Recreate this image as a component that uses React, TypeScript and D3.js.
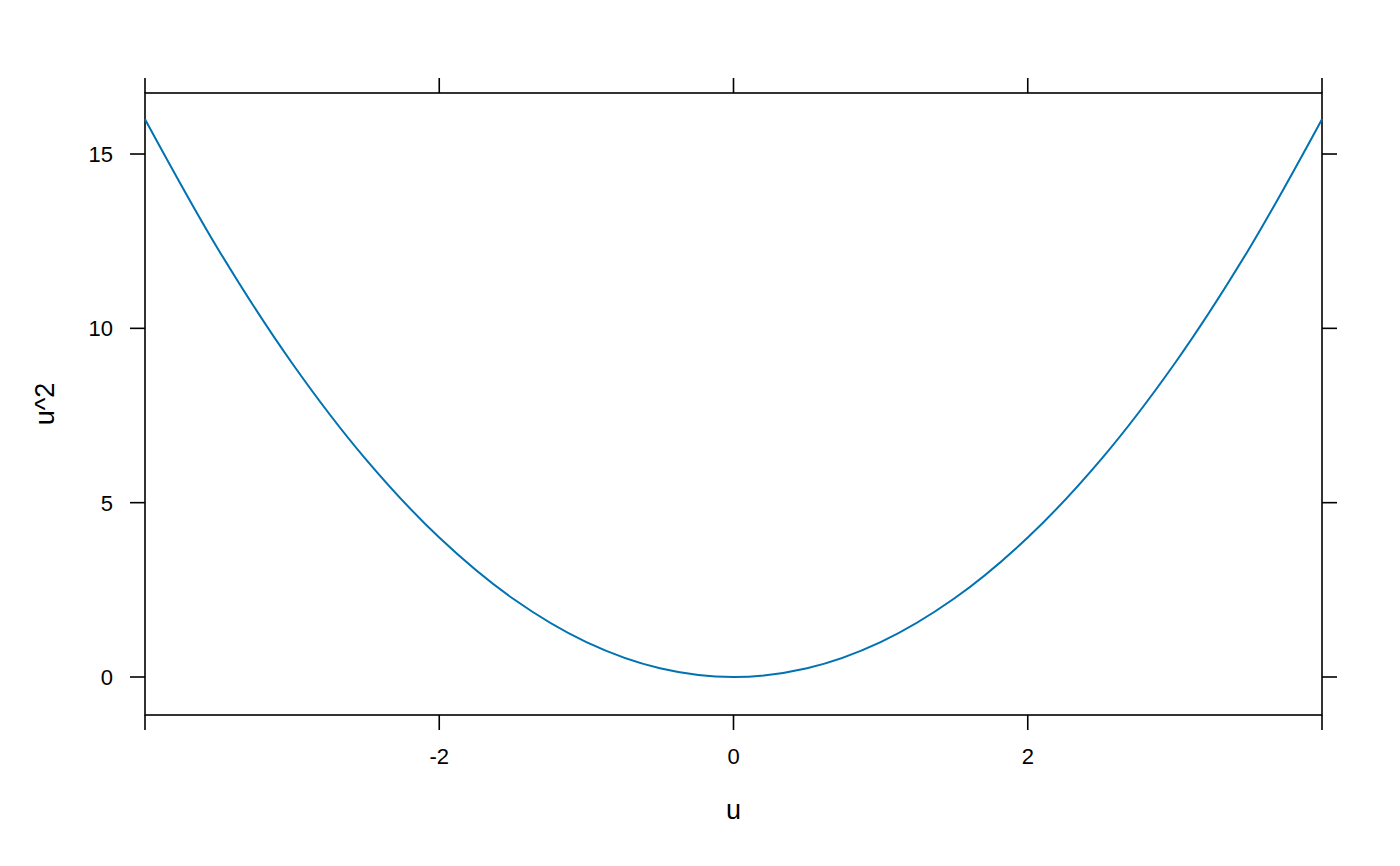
import { useMemo } from 'react';
import * as d3 from 'd3';

// values, u from -4 to 4
const uValues = [-4, -3.5, -3, -2.5, -2, -1.5, -1, -0.5, 0, 0.5, 1, 1.5, 2, 2.5, 3, 3.5, 4];
const uSquared = [16, 12.25, 9, 6.25, 4, 2.25, 1, 0.25, 0, 0.25, 1, 2.25, 4, 6.25, 9, 12.25, 16];

const xTicks = [-4, -2, 0, 2, 4];
const xTickLabels = ['', '-2', '0', '2', ''];
const yTicks = [0, 5, 10, 15];

const width = 1400;
const height = 866;
const panel = { left: 145, right: 1322, top: 93, bottom: 715 };
const tickLen = 15;
const font = 'Liberation Sans, Arial, Helvetica, sans-serif';

export default function App() {
  const xScale = useMemo(
    () => d3.scaleLinear().domain([-4, 4]).range([panel.left, panel.right]),
    []
  );
  const yScale = useMemo(
    () => d3.scaleLinear().domain([-1.09, 16.75]).range([panel.bottom, panel.top]),
    []
  );

  const linePath = d3
    .line<number>()
    .x((_, i) => xScale(uValues[i]))
    .y((d) => yScale(d))
    .curve(d3.curveCatmullRom.alpha(0.5))(uSquared);

  return (
    <svg
      width={width}
      height={height}
      style={{ position: 'absolute', left: 0, top: 0, background: 'white' }}
    >
      <rect
        x={panel.left}
        y={panel.top}
        width={panel.right - panel.left}
        height={panel.bottom - panel.top}
        fill="none"
        stroke="black"
        strokeWidth={1.6}
      />
      {xTicks.map((t, i) => (
        <g key={'x' + t}>
          <line
            x1={xScale(t)}
            x2={xScale(t)}
            y1={panel.bottom}
            y2={panel.bottom + tickLen}
            stroke="black"
            strokeWidth={1.6}
          />
          <line
            x1={xScale(t)}
            x2={xScale(t)}
            y1={panel.top}
            y2={panel.top - tickLen}
            stroke="black"
            strokeWidth={1.6}
          />
          <text
            x={xScale(t)}
            y={764}
            textAnchor="middle"
            fontFamily={font}
            fontSize={22}
          >
            {xTickLabels[i]}
          </text>
        </g>
      ))}
      {yTicks.map((t) => (
        <g key={'y' + t}>
          <line
            x1={panel.left}
            x2={panel.left - tickLen}
            y1={yScale(t)}
            y2={yScale(t)}
            stroke="black"
            strokeWidth={1.6}
          />
          <line
            x1={panel.right}
            x2={panel.right + tickLen}
            y1={yScale(t)}
            y2={yScale(t)}
            stroke="black"
            strokeWidth={1.6}
          />
          <text
            x={113}
            y={yScale(t)}
            dy="0.36em"
            textAnchor="end"
            fontFamily={font}
            fontSize={22}
          >
            {t}
          </text>
        </g>
      ))}
      <path d={linePath ?? ''} fill="none" stroke="#0072B2" strokeWidth={2} />
      <text
        x={(panel.left + panel.right) / 2}
        y={819}
        textAnchor="middle"
        fontFamily={font}
        fontSize={27}
      >
        u
      </text>
      <text
        transform={`translate(54, ${(panel.top + panel.bottom) / 2}) rotate(-90)`}
        textAnchor="middle"
        fontFamily={font}
        fontSize={27}
      >
        u^2
      </text>
    </svg>
  );
}
